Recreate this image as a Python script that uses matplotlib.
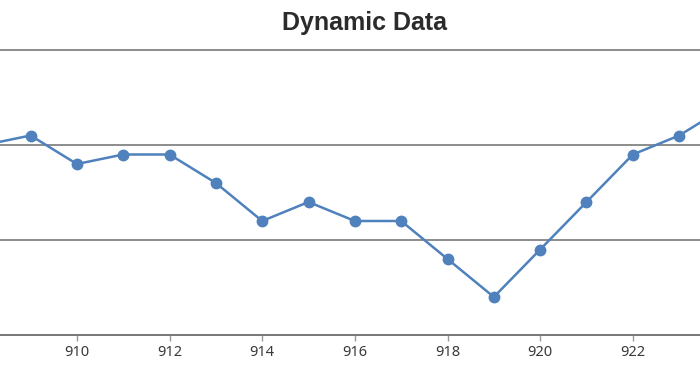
"""
Dynamic Data - gráfico de línea
"""

import matplotlib
matplotlib.use('Agg')
import matplotlib.pyplot as plt

x_vals = [908, 909, 910, 911, 912, 913, 914, 915, 916, 917, 918, 919, 920, 921, 922, 923, 924]
y_vals = [90, 91, 88, 89, 89, 86, 82, 84, 82, 82, 78, 74, 79, 84, 89, 91, 94]
x_ticks = [910, 912, 914, 916, 918, 920, 922]
y_grid = [70, 80, 90, 100]

LINE_COLOR = '#4F81BC'

fig = plt.figure(figsize=(7, 3.66), dpi=100)
ax = fig.add_axes([0, 31 / 366, 1, (335 - 50) / 366])

ax.plot(x_vals, y_vals, color=LINE_COLOR, linewidth=1.8,
        marker='o', markersize=7.5, markerfacecolor=LINE_COLOR,
        markeredgecolor=LINE_COLOR, zorder=3)

ax.set_xlim(908.34, 923.45)
ax.set_ylim(70, 100)

ax.set_yticks(y_grid)
ax.yaxis.grid(True, color='#6e6e6e', linewidth=1.1)
for linea in ax.get_ygridlines():
    linea.set_clip_on(False)
ax.tick_params(axis='y', left=False, labelleft=False)

ax.set_xticks(x_ticks)
ax.set_xticklabels([str(t) for t in x_ticks], family=['Noto Sans', 'DejaVu Sans'])
ax.tick_params(axis='x', length=4, width=1, color='#9a9a9a',
               labelsize=10.5, labelcolor='#3a3a3a', pad=3)

for lado in ['left', 'right', 'top']:
    ax.spines[lado].set_visible(False)
ax.spines['bottom'].set_color('#7a7a7a')
ax.spines['bottom'].set_linewidth(1.4)

fig.text(365 / 700, 1 - 23 / 366, 'Dynamic Data', ha='center', va='center',
         fontsize=18, fontweight='bold', fontstretch='condensed', color='#2b2b2b',
         family=['Liberation Sans', 'DejaVu Sans'])

plt.savefig('out.png', dpi=100)
